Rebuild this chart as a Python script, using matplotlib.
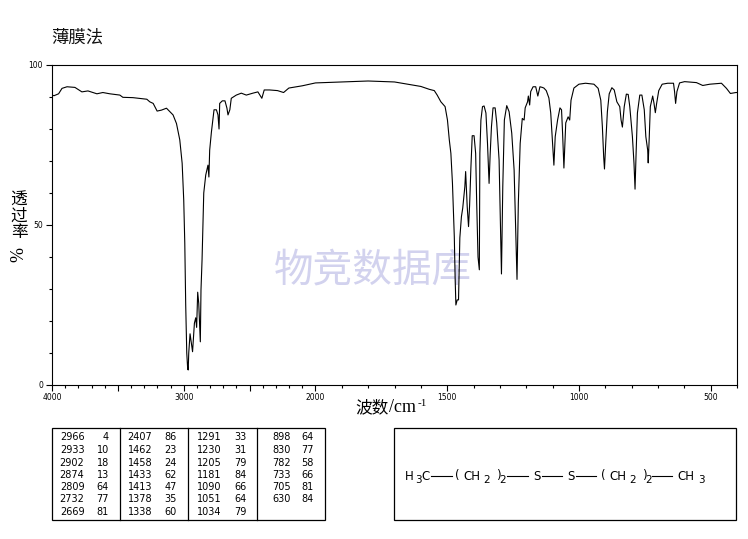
import numpy as np
import matplotlib
matplotlib.use('Agg')
import matplotlib.pyplot as plt

plt.rcParams['font.family'] = ['Noto Sans CJK SC', 'DejaVu Sans']

# spectrum
wavenumber = [4000, 3985, 3950, 3924, 3886, 3826, 3773, 3727, 3659, 3614, 3561, 3485, 3462, 3386, 3280, 3258,
              3232, 3202, 3169, 3131, 3081, 3055, 3030, 3012, 3000, 2992, 2985, 2977, 2970, 2966, 2962, 2952,
              2933, 2919, 2909, 2902, 2894, 2886, 2874, 2869, 2861, 2848, 2833, 2816, 2809, 2803, 2790, 2770,
              2752, 2740, 2732, 2727, 2707, 2687, 2672, 2664, 2650, 2639, 2601, 2563, 2525, 2475, 2437, 2407,
              2389, 2348, 2288, 2242, 2202, 2100, 2000, 1900, 1800, 1700, 1650, 1600, 1568, 1549, 1538, 1524,
              1508, 1499, 1492, 1486, 1480, 1473, 1470, 1467, 1462, 1457, 1452, 1446, 1441, 1433, 1430, 1427,
              1424, 1419, 1415, 1410, 1405, 1398, 1392, 1388, 1383, 1378, 1376, 1372, 1366, 1360, 1353, 1347,
              1341, 1337, 1332, 1326, 1318, 1312, 1303, 1297, 1294, 1289, 1283, 1274, 1265, 1255, 1246, 1240,
              1235, 1230, 1223, 1215, 1208, 1204, 1195, 1192, 1187, 1183, 1174, 1164, 1156, 1148, 1139, 1133,
              1124, 1114, 1107, 1101, 1095, 1090, 1081, 1072, 1066, 1062, 1057, 1050, 1041, 1035, 1030, 1019,
              1000, 975, 943, 927, 917, 911, 906, 903, 898, 892, 885, 875, 866, 856, 845, 840, 835, 828, 820,
              813, 807, 797, 791, 787, 783, 778, 769, 761, 752, 746, 739, 737, 733, 729, 720, 715, 710, 705,
              697, 684, 663, 641, 637, 633, 628, 618, 599, 554, 530, 503, 459, 440, 425, 404, 400]
transmittance = [90.6, 90.4, 91, 92.7, 93.2, 93, 91.6, 91.9, 91, 91.4, 91, 90.6, 89.9, 89.8, 89.3, 88.5,
                 88, 85.6, 85.9, 86.5, 84.4, 81.7, 76.6, 69.3, 57.8, 44.3, 25, 10, 5, 4.7, 10, 16,
                 10.4, 19.3, 21, 18, 29, 25.5, 13.5, 29.7, 39, 60, 65.6, 68.7, 65, 73.4, 79, 86,
                 86, 84.4, 80, 88, 88.8, 88.8, 86.5, 84.4, 86, 89.6, 90.6, 91.2, 90.6, 91.2, 91.6, 89.6,
                 92.2, 92.2, 92, 91.4, 92.8, 93.5, 94.4, 94.7, 95, 94.7, 94, 93.3, 92.4, 92, 90.6, 88.5,
                 87, 82.8, 76.6, 72.4, 63, 46.3, 33.9, 25, 26.6, 26.6, 46, 52.6, 55.3, 62, 66.7, 61,
                 55.7, 49.5, 56, 68, 77.9, 77.9, 72.4, 56.8, 40, 36, 72.4, 82.8, 87, 87.2, 85, 75.5,
                 63, 71.9, 80.7, 86.6, 86.6, 81.9, 70.3, 46.3, 34.7, 62, 82.8, 87.3, 85.4, 78.7, 67.2, 48.4,
                 33, 56.8, 75.5, 83.3, 82.8, 86.6, 88.5, 90.3, 87.5, 91.7, 93.2, 93.2, 90.3, 93.2, 93, 92.8,
                 92, 89.7, 85, 76.6, 68.7, 77.6, 82.8, 86.6, 86, 78.7, 67.8, 81.9, 83.8, 82.8, 89, 92.8,
                 94, 94.3, 94, 92.7, 89, 80.7, 71.3, 67.5, 76, 85.4, 91, 92.9, 92.2, 88.5, 87, 82.8, 80.6, 87, 90.9,
                 90.8, 87, 77.6, 69.3, 61.2, 72.4, 85, 90.6, 90.6, 86, 77.6, 73.4, 69.4, 77.6, 87, 90.3, 88, 85.1, 88,
                 92, 94, 94.3, 94.3, 91.7, 88, 91.7, 94.4, 94.8, 94.5, 93.6, 94, 94.3, 92.7, 91.1, 91.4, 91.4]

# peak table, one list per column pair
peak_wn = [['2966', '2933', '2902', '2874', '2809', '2732', '2669'],
           ['2407', '1462', '1458', '1433', '1413', '1378', '1338'],
           ['1291', '1230', '1205', '1181', '1090', '1051', '1034'],
           ['898', '830', '782', '733', '705', '630']]
peak_t = [['4', '10', '18', '13', '64', '77', '81'],
          ['86', '23', '24', '62', '47', '35', '60'],
          ['33', '31', '79', '84', '66', '64', '79'],
          ['64', '77', '58', '66', '81', '84']]

xticks_labelled = [4000, 3000, 2000, 1500, 1000, 500]
xticks_long = [4000, 3500, 3000, 2500, 2000, 1500, 1000, 500]
xticks_minor = [w for w in range(3900, 399, -100) if w not in xticks_long]
yticks = [0, 50, 100]
yticks_minor = [10, 20, 30, 40, 60, 70, 80, 90]


def forward(x):
    # the axis is stretched 2x below 2000 cm-1
    x = np.asarray(x, dtype=float)
    return np.where(x >= 2000, x, 2000 - (2000 - x) * 2)


def inverse(u):
    u = np.asarray(u, dtype=float)
    return np.where(u >= 2000, u, 2000 - (2000 - u) / 2)


W, H = 748, 539
fig = plt.figure(figsize=(W / 100, H / 100), dpi=100)

# overlay in pixel coordinates for the boxes and the labels
page = fig.add_axes([0, 0, 1, 1])
page.set_xlim(0, W)
page.set_ylim(H, 0)
page.axis('off')

ax = fig.add_axes([52 / W, 1 - 385 / H, 685 / W, 320 / H])
ax.patch.set_alpha(0)
ax.set_xscale('function', functions=(forward, inverse))
ax.plot(wavenumber, transmittance, color='black', lw=0.8)
ax.set_xlim(4000, 400)
ax.set_ylim(0, 100)
for s in ['left', 'right', 'top', 'bottom']:
    ax.spines[s].set_linewidth(0.8)

ax.set_xticks(xticks_long)
ax.set_xticklabels([str(t) if t in xticks_labelled else '' for t in xticks_long],
                   family='DejaVu Sans', fontsize=5.5)
ax.set_xticks(xticks_minor, minor=True)
ax.set_xticklabels([], minor=True)
ax.tick_params(axis='x', which='major', length=4, width=0.8, pad=1.5)
ax.tick_params(axis='x', which='minor', length=2, width=0.8)
ax.set_yticks(yticks)
ax.set_yticklabels([str(t) for t in yticks], family='DejaVu Sans', fontsize=5.5)
ax.set_yticks(yticks_minor, minor=True)
ax.set_yticklabels([], minor=True)
ax.tick_params(axis='y', which='major', length=4.5, width=0.8, pad=2)
ax.tick_params(axis='y', which='minor', length=2, width=0.8)

# watermark sits behind the trace
page.text(373, 270, '物竞数据库', color='#d2d2ee', fontsize=28.5, ha='center', va='center')

page.text(51, 38, '薄膜法', fontsize=12.5, ha='left', va='center', color='#111111')

# axis labels, put together piece by piece like the original
page.text(355, 408, '波数', fontsize=12, ha='left', va='center')
page.text(389, 408, '/cm', family='Liberation Serif', fontsize=13, ha='left', va='center')
page.text(418, 404, '-1', family='Liberation Serif', fontsize=8, ha='left', va='center')
for y, ch in zip([200, 216, 233], '透过率'):
    page.text(19, y, ch, fontsize=12, ha='center', va='center')
page.text(19, 254, '%', family='Liberation Serif', fontsize=13, ha='center', va='center', rotation=90)

# peak table
page.add_patch(plt.Rectangle((52, 428), 273, 92, fill=False, ec='black', lw=0.9))
for x in [120.5, 188.5, 257.5]:
    page.plot([x, x], [428, 520], color='black', lw=0.9)
row_y = [437.5, 450, 462.5, 475, 487, 499.5, 512]
wn_right = [84.5, 152.5, 221.5, 290.5]
t_right = [109, 177, 246.5, 314]
for col in range(4):
    for i, (w, t) in enumerate(zip(peak_wn[col], peak_t[col])):
        page.text(wn_right[col], row_y[i], w, family='DejaVu Sans', fontsize=7, ha='right', va='center')
        page.text(t_right[col], row_y[i], t, family='DejaVu Sans', fontsize=7, ha='right', va='center')

# structure box
page.add_patch(plt.Rectangle((394.5, 428), 341.5, 92, fill=False, ec='black', lw=0.9))
mol_y = 476
for x0, x1 in [(431.5, 452), (507, 528), (542, 562), (576, 596), (652, 672)]:
    page.plot([x0, x1], [mol_y, mol_y], color='black', lw=0.8)
mol_font = dict(family='DejaVu Sans', fontsize=8.5, va='center', ha='left')
sub_font = dict(family='DejaVu Sans', fontsize=7.5, va='center', ha='left')
page.text(405, mol_y, 'H', **mol_font)
page.text(415.5, mol_y + 4, '3', **sub_font)
page.text(421, mol_y, 'C', **mol_font)
for x_open in [455, 601]:
    page.text(x_open, mol_y, '(', **mol_font)
    page.text(x_open + 8, mol_y, 'CH', **mol_font)
    page.text(x_open + 28, mol_y + 4, '2', **sub_font)
    page.text(x_open + 41, mol_y, ')', **mol_font)
    page.text(x_open + 44.5, mol_y + 4, '2', **sub_font)
page.text(533, mol_y, 'S', **mol_font)
page.text(567, mol_y, 'S', **mol_font)
page.text(677, mol_y, 'CH', **mol_font)
page.text(698, mol_y + 4, '3', **sub_font)

fig.savefig('out.png', dpi=100)
